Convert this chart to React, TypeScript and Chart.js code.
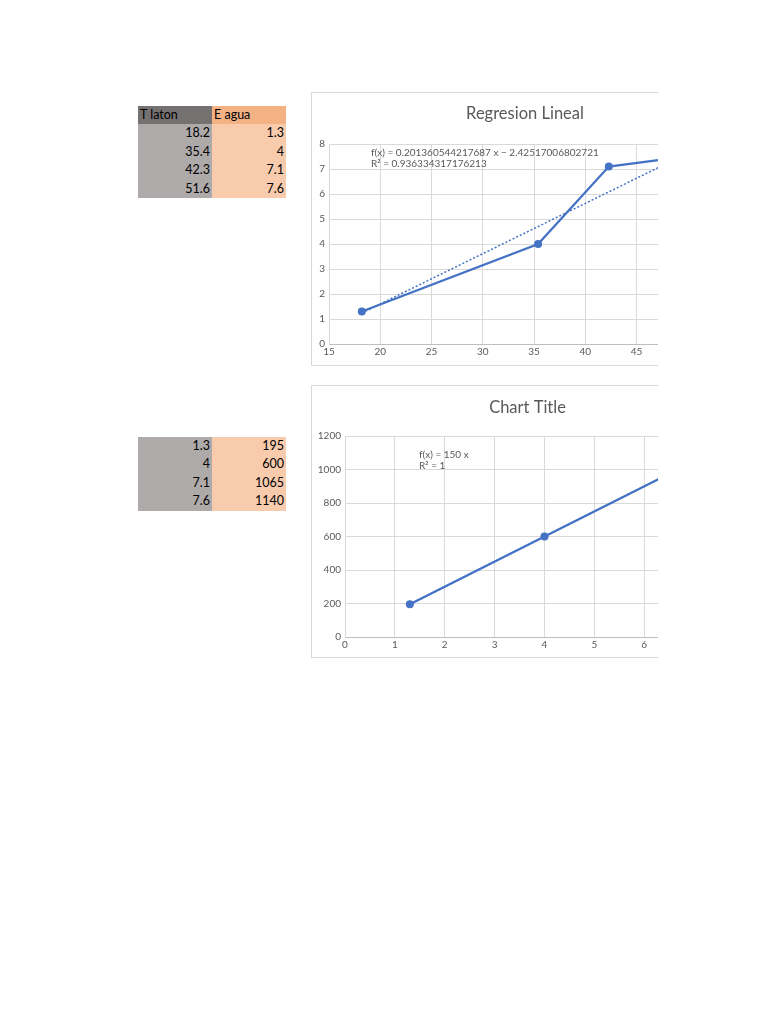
import React, { useEffect, useRef } from "react";
import Chart from "chart.js/auto";

// sheet values
const tLaton = [18.2, 35.4, 42.3, 51.6];
const eAgua = [1.3, 4, 7.1, 7.6];
const trend1X = [18.2, 51.6];
const trend1Y = [1.24, 7.96];

const eAgua2 = [1.3, 4, 7.1, 7.6];
const energia = [195, 600, 1065, 1140];
const trend2X = [1.3, 7.6];
const trend2Y = [195, 1140];

const eq1 = ["f(x) = 0.201360544217687 x − 2.42517006802721", "R² = 0.936334317176213"];
const eq2 = ["f(x) = 150 x", "R² = 1"];

const FONT = "Lato, 'Noto Sans', sans-serif";
const TEXT = "#595959";
const BLUE = "#4472c4";

const eqPlugin = {
  id: "eqLabel",
  afterDatasetsDraw(chart: any, _args: any, opts: any) {
    const { ctx, chartArea } = chart;
    ctx.save();
    ctx.font = `${opts.size}px ${FONT}`;
    ctx.fillStyle = TEXT;
    ctx.textBaseline = "middle";
    opts.lines.forEach((l: string, i: number) =>
      ctx.fillText(l, chartArea.left + opts.dx, chartArea.top + opts.dy + i * 11)
    );
    ctx.restore();
  }
};

type ScatterProps = {
  width: number;
  height: number;
  title: string;
  titlePad: { top: number; bottom: number };
  xs: number[];
  ys: number[];
  trendX: number[];
  trendY: number[];
  xRange: [number, number, number];
  yRange: [number, number, number];
  yWidth: number;
  xHeight: number;
  rightPad: number;
  eq: string[];
  eqPos: [number, number];
};

const ScatterChart: React.FC<ScatterProps> = (p) => {
  const chartRef = useRef<HTMLCanvasElement>(null);
  const chartInstance = useRef<Chart>();

  useEffect(() => {
    if (!chartRef.current) return;
    const ctx = chartRef.current.getContext("2d");
    if (!ctx) return;
    if (chartInstance.current) chartInstance.current.destroy();

    const tickFont = { family: FONT, size: 10 };
    chartInstance.current = new Chart(ctx, {
      type: "scatter",
      data: {
        datasets: [
          {
            data: p.xs.map((x, i) => ({ x, y: p.ys[i] })),
            showLine: true,
            borderColor: BLUE,
            backgroundColor: BLUE,
            borderWidth: 2.25,
            pointRadius: 4,
            pointBorderWidth: 0
          },
          {
            data: p.trendX.map((x, i) => ({ x, y: p.trendY[i] })),
            showLine: true,
            borderColor: BLUE,
            borderWidth: 1.5,
            borderDash: [2, 2],
            pointRadius: 0
          }
        ]
      },
      options: {
        responsive: false,
        animation: false,
        events: [],
        layout: { padding: { top: 0, left: 0, bottom: 0, right: p.rightPad } },
        scales: {
          x: {
            type: "linear",
            min: p.xRange[0],
            max: p.xRange[1],
            ticks: {
              stepSize: p.xRange[2],
              color: TEXT,
              font: tickFont,
              padding: 2,
              maxRotation: 0,
              callback: (v: any) => String(v)
            },
            grid: { color: "#d9d9d9", drawTicks: false },
            border: { color: "#bfbfbf" },
            afterFit: (s: any) => {
              s.height = p.xHeight;
            }
          },
          y: {
            type: "linear",
            min: p.yRange[0],
            max: p.yRange[1],
            ticks: {
              stepSize: p.yRange[2],
              color: TEXT,
              font: tickFont,
              padding: 4,
              callback: (v: any) => String(v)
            },
            grid: { color: "#d9d9d9", drawTicks: false },
            border: { color: "#d9d9d9" },
            afterFit: (s: any) => {
              s.width = p.yWidth;
            }
          }
        },
        plugins: {
          legend: { display: false },
          tooltip: { enabled: false },
          title: {
            display: true,
            text: p.title,
            color: TEXT,
            font: { family: FONT, size: 16.5, weight: "normal" },
            padding: p.titlePad
          },
          eqLabel: { lines: p.eq, dx: p.eqPos[0], dy: p.eqPos[1], size: 10 }
        } as any
      },
      plugins: [eqPlugin]
    });

    return () => {
      if (chartInstance.current) chartInstance.current.destroy();
    };
  }, []);

  return <canvas ref={chartRef} width={p.width} height={p.height} />;
};

const cell: React.CSSProperties = {
  position: "absolute",
  height: 18.4,
  width: 74,
  boxSizing: "border-box",
  padding: "0 2px",
  fontFamily: FONT,
  fontSize: 12.5,
  lineHeight: "18.4px",
  color: "#000"
};

const Table: React.FC<{ top: number; header?: string[]; a: number[]; b: number[] }> = ({ top, header, a, b }) => {
  const rows: React.ReactNode[] = [];
  let y = top;
  if (header) {
    rows.push(
      <div key="h1" style={{ ...cell, left: 138, top: y, background: "#767171" }}>{header[0]}</div>,
      <div key="h2" style={{ ...cell, left: 212, top: y, background: "#f4b183" }}>{header[1]}</div>
    );
    y += 18.4;
  }
  a.forEach((v, i) => {
    rows.push(
      <div key={"a" + i} style={{ ...cell, left: 138, top: y, background: "#aeaaaa", textAlign: "right" }}>{String(v)}</div>,
      <div key={"b" + i} style={{ ...cell, left: 212, top: y, background: "#f8cbad", textAlign: "right" }}>{String(b[i])}</div>
    );
    y += 18.4;
  });
  return <>{rows}</>;
};

const ChartBox: React.FC<{ top: number; height: number; children: React.ReactNode }> = ({ top, height, children }) => (
  <div style={{ position: "absolute", left: 311, top, width: 347, height, overflow: "hidden" }}>
    <div style={{ position: "absolute", left: 0, top: 0, width: 444, height }}>{children}</div>
    <div
      style={{
        position: "absolute",
        left: 0,
        top: 0,
        width: 444,
        height,
        boxSizing: "border-box",
        border: "1px solid #d9d9d9",
        pointerEvents: "none"
      }}
    />
  </div>
);

export default function App() {
  return (
    <div>
      <Table top={106} header={["T laton", "E agua"]} a={tLaton} b={eAgua} />
      <Table top={437} a={eAgua2} b={energia} />
      <ChartBox top={92} height={274}>
        <ScatterChart
          width={444}
          height={274}
          title="Regresion Lineal"
          titlePad={{ top: 12, bottom: 20.3 }}
          xs={tLaton}
          ys={eAgua}
          trendX={trend1X}
          trendY={trend1Y}
          xRange={[15, 55, 5]}
          yRange={[0, 8, 1]}
          yWidth={18}
          xHeight={22}
          rightPad={16}
          eq={eq1}
          eqPos={[42, 9]}
        />
      </ChartBox>
      <ChartBox top={385} height={273}>
        <ScatterChart
          width={444}
          height={273}
          title="Chart Title"
          titlePad={{ top: 13, bottom: 18.3 }}
          xs={eAgua2}
          ys={energia}
          trendX={trend2X}
          trendY={trend2Y}
          xRange={[0, 8, 1]}
          yRange={[0, 1200, 200]}
          yWidth={34}
          xHeight={21}
          rightPad={11}
          eq={eq2}
          eqPos={[74, 19]}
        />
      </ChartBox>
    </div>
  );
}
